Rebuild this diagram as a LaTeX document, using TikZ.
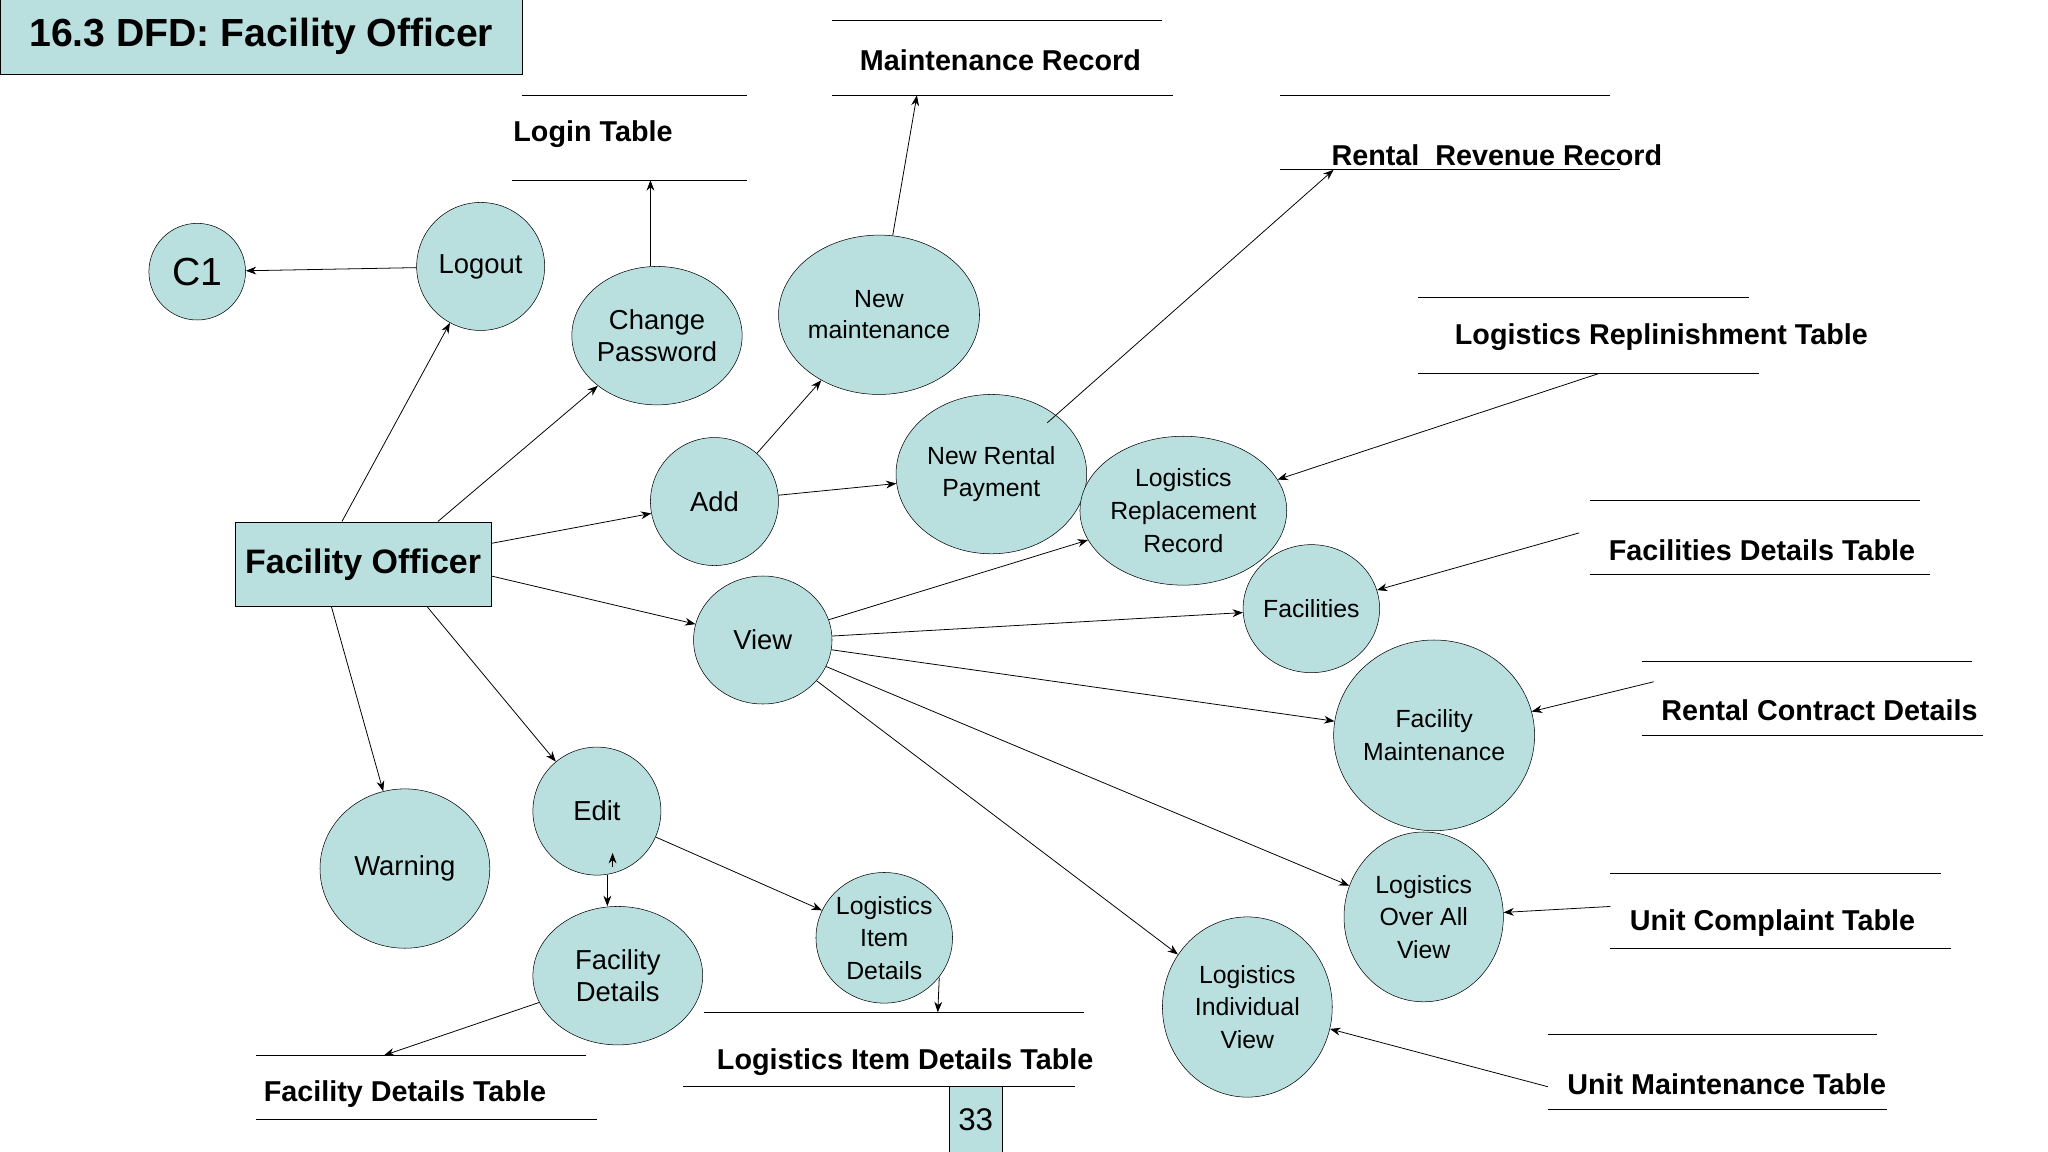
\documentclass[tikz,border=0pt]{standalone}
\usepackage{fontspec}
\setmainfont{Liberation Sans}
\usetikzlibrary{shapes.geometric,arrows.meta}
\definecolor{tealf}{HTML}{B9E0DF}
\begin{document}
\begin{tikzpicture}[x=1pt,y=-1pt,
 proc/.style={ellipse,draw,fill=tealf,inner sep=0pt,align=center,font=\fontsize{21}{25}\selectfont},
 lbl/.style={font=\fontsize{22}{26}\selectfont\bfseries},
 arr/.style={-{Stealth[length=8pt,width=6pt]},line width=0.6pt},
 ln/.style={line width=0.6pt}]
\useasboundingbox[fill=white] (0,0) rectangle (1568,882);
\node[draw,fill=tealf,minimum width=400,minimum height=57,inner sep=0pt,font=\fontsize{30}{34}\selectfont\bfseries] (title) at (200,28) {16.3 DFD: Facility Officer};
\node[draw,fill=tealf,minimum width=196,minimum height=65,inner sep=0pt,font=\fontsize{26}{30}\selectfont\bfseries] (fo) at (278,432) {Facility Officer};
\node[draw,fill=tealf,minimum width=40,minimum height=50,inner sep=0pt,font=\fontsize{24}{28}\selectfont] (pg) at (747,857) {33};
% processes
\node[proc,minimum width=74,minimum height=74,font=\fontsize{30}{34}\selectfont] (c1) at (151,208) {C1};
\node[proc,minimum width=98,minimum height=98] (logout) at (368,204) {Logout};
\node[proc,minimum width=120,minimum height=106] (cp) at (503,257) {Change\\Password};
\node[proc,minimum width=138,minimum height=122,font=\fontsize{19}{24}\selectfont] (nm) at (673,241) {New\\maintenance};
\node[proc,minimum width=98,minimum height=98] (add) at (547,384) {Add};
\node[proc,minimum width=146,minimum height=122,font=\fontsize{19}{24}\selectfont] (nrp) at (759,363) {New Rental\\Payment};
\node[proc,minimum width=130,minimum height=114,font=\fontsize{19}{25}\selectfont] (lrr) at (906,391) {Logistics\\Replacement\\Record};
\node[proc,minimum width=106,minimum height=98] (view) at (584,490) {View};
\node[proc,minimum width=98,minimum height=98,font=\fontsize{19}{24}\selectfont] (fac) at (1004,466) {Facilities};
\node[proc,minimum width=138,minimum height=146,font=\fontsize{19}{25}\selectfont] (fm) at (1098,563) {Facility\\Maintenance};
\node[proc,minimum width=130,minimum height=122] (warn) at (310,665) {Warning};
\node[proc,minimum width=98,minimum height=98] (edit) at (457,621) {Edit};
\node[proc,minimum width=130,minimum height=106] (fd) at (473,747) {Facility\\Details};
\node[proc,minimum width=98,minimum height=100,font=\fontsize{19}{25}\selectfont] (lid) at (677,718) {Logistics\\Item\\Details};
\node[proc,minimum width=130,minimum height=138,font=\fontsize{19}{25}\selectfont] (liv) at (955,771) {Logistics\\Individual\\View};
\node[proc,minimum width=122,minimum height=130,font=\fontsize{19}{25}\selectfont] (loav) at (1090,702) {Logistics\\Over All\\View};
% data stores
\draw[ln] (637,16)--(890,16) (637,73)--(898,73); \node[lbl] (mr) at (766,46) {Maintenance Record};
\draw[ln] (400,73)--(572,73) (392,138)--(572,138); \node[lbl] (lt) at (454,103) {Login Table};
\draw[ln] (980,73)--(1233,73) (980,130)--(1240,130); \node[lbl] (rrr) at (1146,119) {Rental\ \ Revenue Record};
\draw[ln] (1086,228)--(1339,228) (1086,286)--(1347,286); \node[lbl] (lrt) at (1272,258) {Logistics Replinishment Table};
\draw[ln] (1217,383)--(1470,383) (1217,440)--(1478,440); \node[lbl] (fdt) at (1349,421) {Facilities Details Table};
\draw[ln] (1257,506)--(1510,506) (1257,563)--(1518,563); \node[lbl] (rcd) at (1393,544) {Rental Contract Details};
\draw[ln] (1233,669)--(1486,669) (1233,726)--(1494,726); \node[lbl] (uct) at (1357,707) {Unit Complaint Table};
\draw[ln] (1185,792)--(1437,792) (1185,849)--(1445,849); \node[lbl] (umt) at (1322,830) {Unit Maintenance Table};
\draw[ln] (539,775)--(830,775) (523,832)--(823,832); \node[lbl] (lidt) at (693,813) {Logistics Item Details Table};
\draw[ln] (196,808)--(449,808) (196,857)--(457,857); \node[lbl] (fdtab) at (310,838) {Facility Details Table};
% connector end coordinates
\coordinate (pLT) at (498,138); \coordinate (pMR) at (702,73); \coordinate (pRRR) at (1021,130);
\coordinate (pLRT) at (1224,286); \coordinate (pFDT) at (1209,408); \coordinate (pRCD) at (1266,522);
\coordinate (pUCT) at (1233,694); \coordinate (pUMT) at (1185,832); \coordinate (pLIDT) at (718,775);
\coordinate (pFDtab) at (294,808);
% connectors
\draw[arr] (logout) -- (c1);
\draw[arr] (fo.north west)++(82,0) -- (logout);
\draw[arr] (fo.north east)++(-41,0) -- (cp);
\draw[arr] (cp.north)++(-5,0) -- (pLT);
\draw[arr] (fo.east)++(0,-16) -- (add);
\draw[arr] (add) -- (nm);
\draw[arr] (nm) -- (pMR);
\draw[arr] (add) -- (nrp);
\draw[arr] (nrp.north east)++(-9,4) -- (pRRR);
\draw[arr] (pLRT) -- (lrr);
\draw[arr] (fo.east)++(0,9) -- (view);
\draw[arr] (view) -- (lrr);
\draw[arr] (view) -- (fac);
\draw[arr] (pFDT) -- (fac);
\draw[arr] (view) -- (fm);
\draw[arr] (pRCD) -- (fm);
\draw[arr] (view) -- (loav);
\draw[arr] (pUCT) -- (loav);
\draw[arr] (view) -- (liv);
\draw[arr] (pUMT) -- (liv);
\draw[arr] (fo.south west)++(74,0) -- (warn);
\draw[arr] (fo.south east)++(-49,0) -- (edit);
\draw[arr] (edit.south)++(8,0) -- (fd.north -| 465,0);
\draw[arr] (469,664) -- (469,653);
\draw[arr] (edit) -- (lid);
\draw[arr] (lid.south east)++(5,-5) -- (pLIDT);
\draw[arr] (fd) -- (pFDtab);
\end{tikzpicture}
\end{document}
